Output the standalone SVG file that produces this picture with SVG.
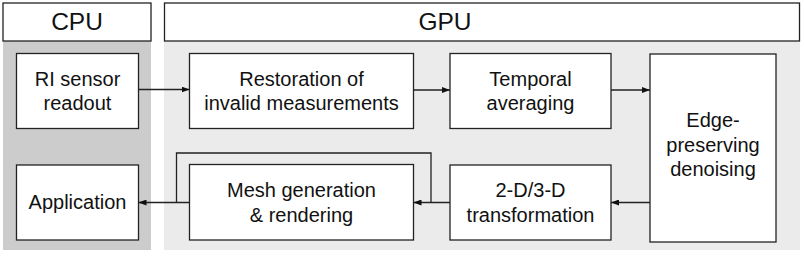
<svg xmlns="http://www.w3.org/2000/svg" width="804" height="256" viewBox="0 0 804 256">
<defs>
<style>
.hdr{fill:#ffffff;stroke:#222;stroke-width:1.3}
.node{fill:#ffffff;stroke:#222;stroke-width:1.3}
.t{font-family:"Liberation Sans",Arial,sans-serif;font-size:20px;fill:#111;text-anchor:middle}
.h{font-family:"Liberation Sans",Arial,sans-serif;font-size:24.5px;fill:#111;text-anchor:middle}
.c{fill:none;stroke:#222;stroke-width:1.3}
</style>
<marker id="ah" markerUnits="userSpaceOnUse" markerWidth="8" markerHeight="6" refX="8" refY="3" orient="auto">
<path d="M0,0 L8,3 L0,6 Z" fill="#111"/>
</marker>
</defs>
<rect width="804" height="256" fill="#ffffff"/>
<g id="cpu-lane">
<rect x="3" y="41" width="148" height="209" fill="#cccccc"/>
<rect class="hdr" x="3" y="3" width="148" height="38"/>
<text class="h" x="77" y="30">CPU</text>
</g>
<g id="gpu-lane">
<rect x="164" y="41" width="636" height="209" fill="#ebebeb"/>
<rect class="hdr" x="164.5" y="3" width="635" height="38"/>
<text class="h" x="445" y="30">GPU</text>
</g>
<g id="connectors">
<path class="c" d="M138.5,89.5 H189.5" marker-end="url(#ah)"/>
<path class="c" d="M413.5,90 H450" marker-end="url(#ah)"/>
<path class="c" d="M611,90 H650" marker-end="url(#ah)"/>
<path class="c" d="M650,202.5 H611" marker-end="url(#ah)"/>
<path class="c" d="M450,202.5 H413.5" marker-end="url(#ah)"/>
<path class="c" d="M189.5,202.5 H138.5" marker-end="url(#ah)"/>
<path class="c" d="M431,202.5 V153 H176.5 V202.5"/>
</g>
<g id="ri-sensor">
<rect class="node" x="16.5" y="53.5" width="122" height="75"/>
<text class="t" x="77.5" y="85.5">RI sensor</text>
<text class="t" x="77.5" y="110">readout</text>
</g>
<g id="application">
<rect class="node" x="16.5" y="165" width="122" height="75"/>
<text class="t" x="77.5" y="209">Application</text>
</g>
<g id="restoration">
<rect class="node" x="189.5" y="53.5" width="224" height="75"/>
<text class="t" x="301.5" y="85.5">Restoration of</text>
<text class="t" x="301.5" y="110">invalid measurements</text>
</g>
<g id="temporal">
<rect class="node" x="450" y="53.5" width="161" height="75"/>
<text class="t" x="530.5" y="85.5">Temporal</text>
<text class="t" x="530.5" y="110">averaging</text>
</g>
<g id="edge">
<rect class="node" x="650" y="54" width="126" height="188"/>
<text class="t" x="713" y="127">Edge-</text>
<text class="t" x="713" y="151.5">preserving</text>
<text class="t" x="713" y="176">denoising</text>
</g>
<g id="transformation">
<rect class="node" x="450" y="165" width="161" height="75"/>
<text class="t" x="530.5" y="197">2-D/3-D</text>
<text class="t" x="530.5" y="221.5">transformation</text>
</g>
<g id="mesh">
<rect class="node" x="189.5" y="164.5" width="224" height="75.5"/>
<text class="t" x="301.5" y="197">Mesh generation</text>
<text class="t" x="301.5" y="221.5">&amp; rendering</text>
</g>
</svg>
